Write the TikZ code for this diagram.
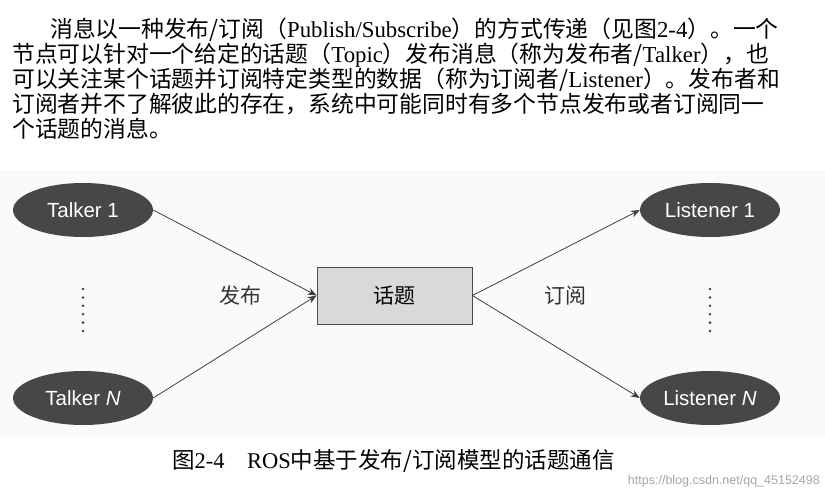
\documentclass[tikz,border=0pt]{standalone}
\usepackage{fontspec}
\setmainfont{Liberation Serif}
\newfontfamily\cjk{Noto Sans CJK SC}
\newfontfamily\sans{Liberation Sans}
\usetikzlibrary{shapes.geometric,arrows.meta}
\begin{document}
\begin{tikzpicture}[x=1pt,y=-1pt,
  ell/.style={ellipse,fill=black!72,minimum width=140pt,minimum height=54pt,inner sep=0pt,text=white,font=\sans\fontsize{20.5}{20.5}\selectfont},
  para/.style={anchor=base west,inner sep=0pt,font=\fontsize{22.8}{22.8}\selectfont\cjk},
  arr/.style={draw=black!75,line width=0.8pt,-{Stealth[length=9pt,width=7pt]}},
  lbl/.style={font=\cjk\fontsize{21}{21}\selectfont,text=black!80}]
\useasboundingbox (0,0) rectangle (825,499);
\fill[black!2] (0,170) rectangle (825,437);
\node[para] (l1) at (50,37) {消息以一种发布/订阅（{\rmfamily Publish/Subscribe}）的方式传递（见图{\rmfamily 2-4}）。一个};
\node[para] (l2) at (12,62) {节点可以针对一个给定的话题（{\rmfamily Topic}）发布消息（称为发布者/{\rmfamily Talker}），也};
\node[para] (l3) at (12,87) {可以关注某个话题并订阅特定类型的数据（称为订阅者/{\rmfamily Listener}）。发布者和};
\node[para] (l4) at (12,112) {订阅者并不了解彼此的存在，系统中可能同时有多个节点发布或者订阅同一};
\node[para] (l5) at (12,137) {个话题的消息。};
\node[ell] (t1) at (83,210) {Talker 1};
\node[ell] (tn) at (83,398) {Talker \textit{N}};
\node[ell] (s1) at (710,210) {Listener 1};
\node[ell] (sn) at (710,398) {Listener \textit{N}};
\node[draw=black!70,fill=black!15,line width=0.8pt,minimum width=155pt,minimum height=57pt,font=\cjk\fontsize{21}{21}\selectfont] (topic) at (394.5,295.5) {话题};
\draw[arr] (t1.east) -- (topic.west);
\draw[arr] (tn.east) -- (topic.west);
\draw[arr] (topic.east) -- (s1.west);
\draw[arr] (topic.east) -- (sn.west);
\node[lbl] (pub) at (240,296) {发布};
\node[lbl] (sub) at (565,296) {订阅};
\foreach \x in {83,710} \foreach \y in {289,297.4,...,331} \fill[black!75] (\x,\y) circle (1.4pt);
\node[anchor=base west,inner sep=0pt,font=\fontsize{22.5}{22.5}\selectfont] (cap) at (172,468) {{\cjk 图}2-4\quad ROS{\cjk 中基于发布/订阅模型的话题通信}};
\node[anchor=base east,inner sep=0pt,text=black!35,font=\sans\fontsize{12.5}{12.5}\selectfont] (wm) at (820,484) {https://blog.csdn.net/qq\_45152498};
\end{tikzpicture}
\end{document}
